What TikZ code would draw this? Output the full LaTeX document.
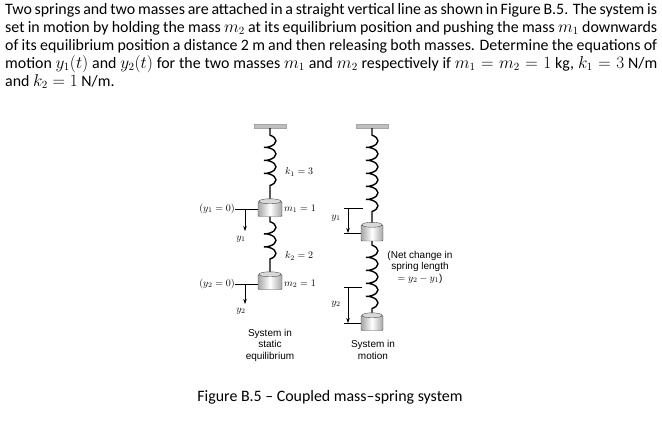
\documentclass[tikz,border=0pt]{standalone}
\usepackage{fontspec}
\setmainfont{Carlito}
\newfontfamily\lab{Liberation Sans}
\usetikzlibrary{decorations.pathmorphing,arrows.meta}
\begin{document}
\begin{tikzpicture}[x=1pt,y=-1pt,
  txt/.style={inner sep=0,font=\fontsize{15.9}{18}\selectfont},
  lb/.style={inner sep=0,font=\lab\fontsize{10}{11.5}\selectfont,align=center},
  ceil/.style={draw=gray!70,fill=gray!50,minimum width=32,minimum height=4,inner sep=0},
  mass/.style={draw=gray!60!black,left color=gray!70,right color=gray!70,middle color=white,minimum width=24,minimum height=15,inner sep=0,rounded corners=1},
  spring/.style={decorate,decoration={coil,aspect=0.4,amplitude=6,segment length=13,pre length=#1,post length=#1},line width=1.4pt},
  ref/.style={line width=0.5pt},
  arr/.style={-{Stealth[length=5,width=3.5]},line width=0.5pt}]
\useasboundingbox (0,0) rectangle (662,425);
\node[txt,anchor=north west,text width=652,align=justify] (para) at (5,3)
 {\hyphenpenalty=10000 Two springs and two masses are attached in a straight vertical line as shown in Figure B.5. The system is set in motion by holding the mass $m_2$ at its equilibrium position and pushing the mass $m_1$ downwards of its equilibrium position a distance 2 m and then releasing both masses. Determine the equations of motion $y_1(t)$ and $y_2(t)$ for the two masses $m_1$ and $m_2$ respectively if $m_1=m_2=1$~kg, $k_1=3$~N/m and $k_2=1$~N/m.};
% left system
\node[ceil] (c1) at (270,126) {};
\node[mass] (m1) at (270,209) {};
\node[mass] (m2) at (270,282) {};
\draw[spring=7] (c1.south) -- (m1.north);
\draw[spring=5] (m1.south) -- (m2.north);
\draw[gray!60!black,fill=gray!30] (m1.north) ellipse (11 and 2.5);
\draw[gray!60!black,fill=gray!30] (m2.north) ellipse (11 and 2.5);
\node[lb,anchor=west] (k1) at (285,172) {$k_1 = 3$};
\node[lb,anchor=west] (lm1) at (284,209) {$m_1 = 1$};
\node[lb,anchor=west] (k2) at (285,256) {$k_2 = 2$};
\node[lb,anchor=west] (lm2) at (284,284) {$m_2 = 1$};
\node[lb,anchor=east] (z1) at (235,209) {$(y_1 = 0)$};
\node[lb,anchor=east] (z2) at (235,284) {$(y_2 = 0)$};
\draw[ref] (z1.east) -- (m1.west |- z1.east);
\draw[ref] (z2.east) -- (m2.west |- z2.east);
\coordinate (a1s) at (245,209); \coordinate (a1e) at (245,231);
\coordinate (a2s) at (245,284); \coordinate (a2e) at (245,304);
\draw[arr] (a1s) -- (a1e);
\draw[arr] (a2s) -- (a2e);
\node[lb] (ly1) at (241,239) {$y_1$};
\node[lb] (ly2) at (241,311) {$y_2$};
\node[lb] (st) at (270,345) {System in\\static\\equilibrium};
% right system
\node[ceil] (c2) at (372,126) {};
\node[mass,minimum width=22,minimum height=16] (m1r) at (372,233) {};
\node[mass,minimum width=22,minimum height=15] (m2r) at (372,323) {};
\draw[spring=7] (c2.south) -- (m1r.north);
\draw[spring=4] (m1r.south) -- (m2r.north);
\draw[gray!60!black,fill=gray!30] (m1r.north) ellipse (10 and 2.5);
\draw[gray!60!black,fill=gray!30] (m2r.north) ellipse (10 and 2.5);
\coordinate (t1a) at (344,208); \coordinate (t1b) at (363,208);
\coordinate (b1a) at (344,233); \coordinate (b1b) at (361,233);
\draw[ref] (t1a) -- (t1b); \draw[ref] (b1a) -- (b1b);
\draw[arr] (348,208) -- (348,233);
\coordinate (t2a) at (344,287); \coordinate (t2b) at (362,287);
\coordinate (b2a) at (344,323); \coordinate (b2b) at (361,323);
\draw[ref] (t2a) -- (t2b); \draw[ref] (b2a) -- (b2b);
\draw[arr] (348,287) -- (348,323);
\node[lb] (ry1) at (336,218) {$y_1$};
\node[lb] (ry2) at (336,304) {$y_2$};
\node[lb] (net) at (420,267) {(Net change in\\spring length\\$= y_2 - y_1$)};
\node[lb] (mo) at (373,350) {System in\\motion};
\node[txt] (cap) at (330,397) {Figure B.5 -- Coupled mass--spring system};
\end{tikzpicture}
\end{document}
